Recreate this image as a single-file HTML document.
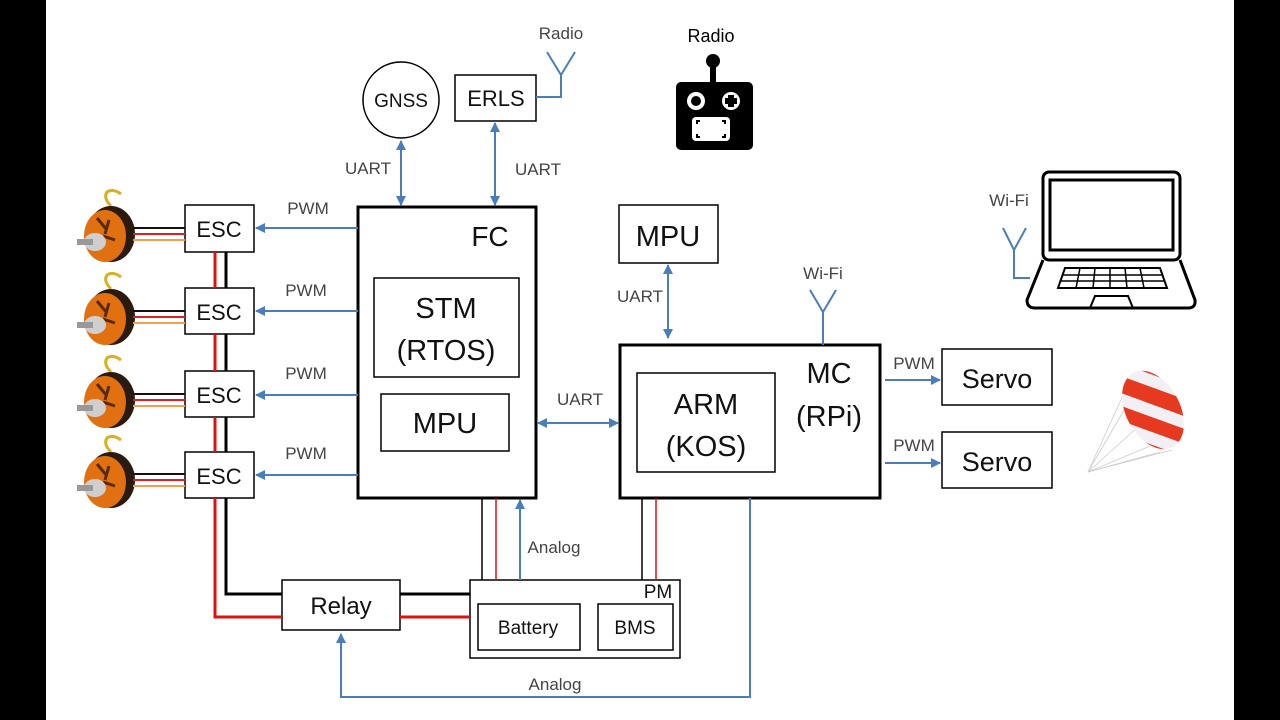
<!DOCTYPE html>
<html><head><meta charset="utf-8"><style>
html,body{margin:0;padding:0;background:#000;}
svg{display:block;}
text{font-family:"Liberation Sans",sans-serif;}
</style></head><body>
<svg width="1280" height="720" viewBox="0 0 1280 720" xmlns="http://www.w3.org/2000/svg">
<defs>
<marker id="a" viewBox="0 0 10 10" refX="9" refY="5" markerWidth="5" markerHeight="5" orient="auto-start-reverse"><path d="M0,0L10,5L0,10z" fill="#4a7ebb"/></marker>
<clipPath id="pc"><ellipse cx="1153" cy="410" rx="27" ry="42" transform="rotate(-28 1153 410)"/></clipPath>
<g id="motor">
<path d="M36,-30 q-8,-8 -4,-14 q6,-4 14,2" stroke="#d8b020" stroke-width="3" fill="none"/>
<ellipse cx="36" cy="-2" rx="24" ry="28" fill="#2a1a10"/>
<ellipse cx="30" cy="0" rx="21" ry="26" fill="#e07010"/>
<path d="M22,-18 l10,12 M34,-16 l-4,14 M40,4 l-12,-4" stroke="#5a2a08" stroke-width="3"/>
<ellipse cx="20" cy="6" rx="11" ry="9" fill="#cfcfcf"/>
<rect x="2" y="3" width="16" height="6" fill="#999"/>
<line x1="58" y1="-8" x2="110" y2="-8" stroke="#111" stroke-width="2"/>
<line x1="58" y1="-2" x2="110" y2="-2" stroke="#e02020" stroke-width="2"/>
<line x1="58" y1="4" x2="110" y2="4" stroke="#f0a050" stroke-width="2"/>
</g>
</defs>
<rect x="46" y="0" width="1188" height="720" fill="#fff"/>
<g fill="none" stroke="#000" stroke-width="1.5">
<circle cx="401" cy="100" r="38"/>
<rect x="455" y="75" width="81" height="46"/>
<rect x="374" y="278" width="145" height="99"/>
<rect x="381" y="394" width="128" height="57"/>
<rect x="185" y="205" width="69" height="47"/>
<rect x="185" y="288" width="69" height="46"/>
<rect x="185" y="371" width="69" height="46"/>
<rect x="185" y="452" width="69" height="46"/>
<rect x="282" y="580" width="118" height="50"/>
<rect x="470" y="580" width="210" height="78"/>
<rect x="478" y="604" width="102" height="46"/>
<rect x="598" y="604" width="75" height="46"/>
<rect x="619" y="205" width="99" height="58"/>
<rect x="637" y="373" width="138" height="99"/>
<rect x="942" y="349" width="110" height="56"/>
<rect x="942" y="432" width="110" height="56"/>
</g>
<rect x="358" y="207" width="178" height="291" fill="none" stroke="#000" stroke-width="3"/>
<rect x="620" y="345" width="260" height="153" fill="none" stroke="#000" stroke-width="3"/>
<g fill="none" stroke-width="3">
<path d="M215,252V288M215,334V371M215,417V452M215,498V617H282M400,617H470" stroke="#e01010"/>
<path d="M226,252V288M226,334V371M226,417V452M226,498V594H282M400,594H470" stroke="#000"/>
</g>
<g fill="none" stroke-width="1.5">
<path d="M482,498V580M642,498V580" stroke="#000"/>
<path d="M496,498V580M656,498V580" stroke="#e01010"/>
</g>
<g fill="none" stroke="#4a7ebb" stroke-width="2">
<line x1="401" y1="141" x2="401" y2="205" marker-start="url(#a)" marker-end="url(#a)"/>
<line x1="495" y1="123" x2="495" y2="205" marker-start="url(#a)" marker-end="url(#a)"/>
<line x1="358" y1="228" x2="256" y2="228" marker-end="url(#a)"/>
<line x1="358" y1="311" x2="256" y2="311" marker-end="url(#a)"/>
<line x1="358" y1="395" x2="256" y2="395" marker-end="url(#a)"/>
<line x1="358" y1="475" x2="256" y2="475" marker-end="url(#a)"/>
<line x1="538" y1="423" x2="618" y2="423" marker-start="url(#a)" marker-end="url(#a)"/>
<line x1="668" y1="265" x2="668" y2="338" marker-start="url(#a)" marker-end="url(#a)"/>
<line x1="520" y1="580" x2="520" y2="500" marker-end="url(#a)"/>
<line x1="885" y1="380" x2="940" y2="380" marker-end="url(#a)"/>
<line x1="885" y1="463" x2="940" y2="463" marker-end="url(#a)"/>
<path d="M750,498V697H341V634" marker-end="url(#a)"/>
<path d="M547,52L561,75L575,52M561,75V97H536"/>
<path d="M810,290L823,312L836,290M823,312V345"/>
<path d="M1003,228L1014,250L1026,228M1014,250V278H1030"/>
</g>
<g fill="#444" font-size="17" text-anchor="middle">
<text x="561" y="39">Radio</text>
<text x="368" y="174">UART</text>
<text x="538" y="175">UART</text>
<text x="308" y="214">PWM</text>
<text x="306" y="296">PWM</text>
<text x="306" y="379">PWM</text>
<text x="306" y="459">PWM</text>
<text x="580" y="405">UART</text>
<text x="640" y="302">UART</text>
<text x="554" y="553">Analog</text>
<text x="555" y="690">Analog</text>
<text x="914" y="369">PWM</text>
<text x="914" y="451">PWM</text>
<text x="823" y="279">Wi-Fi</text>
<text x="1009" y="206">Wi-Fi</text>
</g>
<g fill="#111" text-anchor="middle">
<text x="401" y="107" font-size="19">GNSS</text>
<text x="496" y="106" font-size="22">ERLS</text>
<text x="490" y="246" font-size="28">FC</text>
<text x="446" y="318" font-size="29">STM</text>
<text x="446" y="360" font-size="29">(RTOS)</text>
<text x="445" y="433" font-size="29">MPU</text>
<text x="219" y="237" font-size="22">ESC</text>
<text x="219" y="320" font-size="22">ESC</text>
<text x="219" y="403" font-size="22">ESC</text>
<text x="219" y="484" font-size="22">ESC</text>
<text x="341" y="614" font-size="24">Relay</text>
<text x="658" y="598" font-size="19">PM</text>
<text x="528" y="634" font-size="19">Battery</text>
<text x="635" y="634" font-size="19">BMS</text>
<text x="668" y="246" font-size="29">MPU</text>
<text x="706" y="414" font-size="29">ARM</text>
<text x="706" y="456" font-size="29">(KOS)</text>
<text x="829" y="383" font-size="29">MC</text>
<text x="829" y="426" font-size="29">(RPi)</text>
<text x="997" y="388" font-size="27">Servo</text>
<text x="997" y="471" font-size="27">Servo</text>
<text x="711" y="42" font-size="18" fill="#000">Radio</text>
</g>
<g>
<circle cx="713" cy="61" r="7" fill="#000"/>
<rect x="710" y="61" width="6" height="22" fill="#000"/>
<rect x="676" y="82" width="77" height="68" rx="5" fill="#000"/>
<circle cx="696" cy="101" r="9" fill="#fff"/><circle cx="696" cy="101" r="5" fill="#000"/>
<circle cx="731" cy="101" r="9" fill="#fff"/>
<path d="M728,95h6v3h3v6h-3v3h-6v-3h-3v-6h3z" fill="#000"/>
<rect x="692" y="117" width="38" height="24" rx="4" fill="#fff"/>
<path d="M697,124v-3h3M725,124v-3h-3M697,134v3h3M725,134v3h-3" stroke="#000" stroke-width="2" fill="none"/>
</g>
<g fill="none" stroke="#000" stroke-width="3">
<rect x="1043" y="172" width="137" height="88" rx="6"/>
<rect x="1050" y="180" width="123" height="70"/>
<path d="M1043,260L1027,300Q1027,308 1035,308H1188Q1196,308 1195,300L1180,260"/>
<path d="M1065,268H1160L1167,288H1058Z" stroke-width="2"/>
<path d="M1090,308L1095,296H1128L1133,308" stroke-width="2"/>
</g>
<g stroke="#000" stroke-width="1.5"><line x1="1062" y1="275" x2="1163" y2="275"/><line x1="1060" y1="281" x2="1165" y2="281"/>
<line x1="1080" y1="268" x2="1076" y2="288"/><line x1="1095" y1="268" x2="1093" y2="288"/><line x1="1110" y1="268" x2="1110" y2="288"/><line x1="1125" y1="268" x2="1127" y2="288"/><line x1="1140" y1="268" x2="1144" y2="288"/></g>
<g>
<g stroke="#ccc" stroke-width="0.8"><line x1="1088" y1="472" x2="1130" y2="380"/><line x1="1088" y1="472" x2="1150" y2="446"/><line x1="1088" y1="472" x2="1140" y2="425"/><line x1="1088" y1="472" x2="1127" y2="405"/><line x1="1088" y1="472" x2="1172" y2="450"/><line x1="1088" y1="472" x2="1160" y2="452"/></g>
<ellipse cx="1153" cy="410" rx="27" ry="42" transform="rotate(-28 1153 410)" fill="#f2f0f4"/>
<g clip-path="url(#pc)" fill="#e63a20">
<rect x="1110" y="360" width="100" height="16" transform="rotate(20 1150 410)"/>
<rect x="1110" y="388" width="100" height="16" transform="rotate(20 1150 410)"/>
<rect x="1110" y="416" width="100" height="14" transform="rotate(20 1150 410)"/>
<rect x="1110" y="442" width="100" height="14" transform="rotate(20 1150 410)"/>
</g>
</g>
<use href="#motor" x="75" y="236"/>
<use href="#motor" x="75" y="319"/>
<use href="#motor" x="75" y="402"/>
<use href="#motor" x="75" y="482"/>
</svg>
</body></html>
